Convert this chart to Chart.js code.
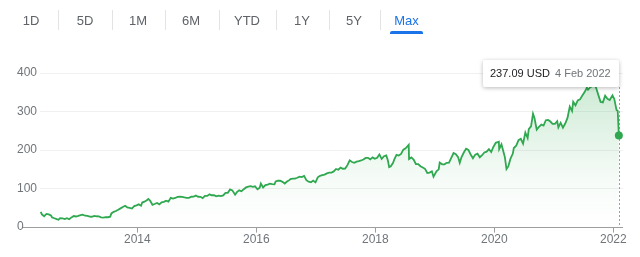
<!DOCTYPE html>
<html>
<head>
<meta charset="utf-8">
<script src="https://cdn.jsdelivr.net/npm/chart.js@4.4.1/dist/chart.umd.min.js"></script>
<style>
html,body{margin:0;padding:0;background:#fff;}
#wrap{position:relative;width:640px;height:257px;overflow:hidden;font-family:Arial,"Liberation Sans",sans-serif;}
#c{position:absolute;left:0;top:0;}
.tab{position:absolute;top:13px;font-size:13px;line-height:16px;color:#5f6368;transform:translateX(-50%);white-space:nowrap;}
.tab.on{color:#1a73e8;}
.sep{position:absolute;top:10px;width:1px;height:20px;background:#e3e3e3;}
.ul{position:absolute;top:31px;height:3px;background:#1a73e8;border-radius:2px 2px 0 0;}
</style>
</head>
<body>
<div id="wrap">
  <canvas id="c" width="640" height="257"></canvas>
</div>
<script>
// ---------- data ----------
const ranges = ["1D","5D","1M","6M","YTD","1Y","5Y","Max"];
const activeRange = "Max";
const yTicks = [0,100,200,300,400];
const yearTicks = [2014,2016,2018,2020,2022];
const lastPriceText = "237.09 USD";
const lastDateText = "4 Feb 2022";

const dates = [
"2012-05-18","2012-05-25","2012-06-08","2012-06-22","2012-07-06","2012-07-20","2012-07-27","2012-08-10","2012-08-24","2012-09-04",
"2012-09-14","2012-09-28","2012-10-12","2012-10-26","2012-11-09","2012-11-23","2012-12-07","2012-12-21","2013-01-04","2013-01-18",
"2013-01-31","2013-02-15","2013-03-01","2013-03-15","2013-03-28","2013-04-12","2013-04-26","2013-05-10","2013-05-24","2013-06-07",
"2013-06-21","2013-07-05","2013-07-19","2013-07-26","2013-08-09","2013-08-23","2013-09-06","2013-09-20","2013-10-04","2013-10-18",
"2013-10-31","2013-11-15","2013-11-29","2013-12-13","2013-12-27","2014-01-10","2014-01-24","2014-01-31","2014-02-14","2014-02-28",
"2014-03-10","2014-03-21","2014-04-04","2014-04-17","2014-05-02","2014-05-16","2014-05-30","2014-06-13","2014-06-27","2014-07-11",
"2014-07-25","2014-08-08","2014-08-22","2014-09-05","2014-09-19","2014-10-03","2014-10-17","2014-10-31","2014-11-14","2014-11-28",
"2014-12-12","2014-12-26","2015-01-09","2015-01-23","2015-02-06","2015-02-20","2015-03-06","2015-03-20","2015-04-02","2015-04-17",
"2015-04-30","2015-05-15","2015-05-29","2015-06-12","2015-06-26","2015-07-10","2015-07-24","2015-08-07","2015-08-24","2015-09-04",
"2015-09-18","2015-10-02","2015-10-16","2015-10-30","2015-11-13","2015-11-27","2015-12-11","2015-12-24","2016-01-08","2016-01-22",
"2016-01-29","2016-02-12","2016-02-26","2016-03-11","2016-03-24","2016-04-08","2016-04-22","2016-04-29","2016-05-13","2016-05-27",
"2016-06-10","2016-06-24","2016-07-08","2016-07-22","2016-07-29","2016-08-12","2016-08-26","2016-09-09","2016-09-23","2016-10-07",
"2016-10-21","2016-11-04","2016-11-18","2016-12-02","2016-12-16","2016-12-30","2017-01-13","2017-01-27","2017-02-10","2017-02-24",
"2017-03-10","2017-03-24","2017-04-07","2017-04-21","2017-05-05","2017-05-19","2017-06-02","2017-06-16","2017-06-30","2017-07-14",
"2017-07-28","2017-08-11","2017-08-25","2017-09-08","2017-09-22","2017-10-06","2017-10-20","2017-11-03","2017-11-17","2017-12-01",
"2017-12-15","2017-12-29","2018-01-12","2018-01-26","2018-02-09","2018-02-23","2018-03-09","2018-03-19","2018-03-27","2018-04-06",
"2018-04-20","2018-04-27","2018-05-11","2018-05-25","2018-06-08","2018-06-22","2018-07-06","2018-07-25","2018-07-27","2018-08-10",
"2018-08-24","2018-09-07","2018-09-21","2018-10-05","2018-10-19","2018-11-02","2018-11-16","2018-11-30","2018-12-14","2018-12-24",
"2019-01-11","2019-01-25","2019-01-31","2019-02-15","2019-03-01","2019-03-15","2019-03-29","2019-04-12","2019-04-26","2019-05-10",
"2019-05-24","2019-06-03","2019-06-14","2019-06-28","2019-07-12","2019-07-26","2019-08-09","2019-08-23","2019-09-06","2019-09-20",
"2019-10-04","2019-10-18","2019-11-01","2019-11-15","2019-11-29","2019-12-13","2019-12-27","2020-01-10","2020-01-29","2020-01-31",
"2020-02-14","2020-02-28","2020-03-06","2020-03-16","2020-03-27","2020-04-09","2020-04-24","2020-04-30","2020-05-15","2020-05-29",
"2020-06-12","2020-06-26","2020-07-10","2020-07-24","2020-07-31","2020-08-14","2020-08-26","2020-09-04","2020-09-18","2020-10-02",
"2020-10-16","2020-10-30","2020-11-13","2020-11-27","2020-12-11","2020-12-24","2021-01-08","2021-01-22","2021-01-29","2021-02-12",
"2021-02-26","2021-03-12","2021-03-26","2021-04-09","2021-04-23","2021-04-30","2021-05-14","2021-05-28","2021-06-11","2021-06-25",
"2021-07-09","2021-07-23","2021-07-30","2021-08-13","2021-08-27","2021-09-07","2021-09-17","2021-10-01","2021-10-15","2021-10-29",
"2021-11-12","2021-11-26","2021-12-10","2021-12-27","2022-01-07","2022-01-21","2022-01-28","2022-02-04"
];

const closes = [
38.2,31.9,27.1,33.0,31.7,28.8,23.7,21.8,19.4,17.7,
22.0,21.7,19.5,21.9,19.2,24.0,27.5,26.3,28.0,30.0,
31.0,28.3,27.8,26.0,25.6,28.0,26.9,26.7,24.3,23.3,
24.5,24.4,25.9,34.4,38.5,40.6,43.9,47.5,51.0,54.2,
50.2,49.0,47.0,53.3,55.4,57.9,54.4,62.6,64.9,68.5,
72.0,67.2,56.8,58.9,61.5,58.0,63.3,64.5,67.6,64.9,
74.9,73.1,74.6,77.3,77.9,77.4,75.9,75.0,74.9,77.7,
77.8,80.8,77.7,77.6,74.3,79.9,80.0,84.0,81.6,82.0,
78.8,80.4,79.2,81.2,87.9,87.9,96.9,94.3,83.0,89.7,
94.3,92.1,97.5,102.0,103.9,105.5,103.6,105.0,97.3,101.5,
112.2,102.0,107.9,109.4,112.0,110.6,110.1,117.6,119.8,119.4,
116.6,112.1,117.2,121.0,123.9,125.0,124.9,127.1,129.9,129.0,
132.1,120.8,117.0,115.4,119.9,115.1,128.3,132.2,134.2,135.4,
138.7,140.3,140.8,143.7,150.2,148.1,153.6,150.6,151.0,160.0,
172.5,168.1,166.3,169.2,170.5,172.2,174.6,178.9,179.0,175.1,
180.2,176.5,179.4,188.0,176.1,183.3,185.2,172.6,155.0,157.2,
166.3,174.2,187.0,184.9,189.1,200.5,203.7,213.0,176.0,180.2,
174.7,163.0,162.9,157.3,154.1,150.4,139.5,140.6,144.1,130.0,
144.2,149.0,166.7,162.3,162.3,166.0,166.7,179.1,191.5,188.3,
181.1,166.0,181.3,193.0,203.0,199.8,187.9,177.8,187.5,189.9,
180.5,185.9,193.0,195.1,201.6,194.1,208.1,218.3,221.0,201.9,
214.2,192.5,181.1,150.0,156.8,176.3,190.1,204.7,210.9,225.1,
228.6,216.1,245.1,230.7,253.7,261.2,294.0,282.7,252.5,259.9,
265.9,263.1,277.0,277.8,273.6,267.4,267.6,274.5,258.3,270.5,
257.6,268.4,283.0,312.5,301.1,325.1,315.9,328.7,331.3,341.4,
350.4,362.0,356.3,363.2,366.0,370.0,362.0,343.0,324.8,323.6,
340.9,333.1,329.8,342.0,332.5,303.2,301.7,237.09
];

// ---------- helpers ----------
function toYear(s){
  const p = s.split('-').map(Number);
  const t = Date.UTC(p[0], p[1]-1, p[2]);
  const a = Date.UTC(p[0], 0, 1), b = Date.UTC(p[0]+1, 0, 1);
  return p[0] + (t - a) / (b - a);
}
const points = dates.map((d, i) => ({ x: toYear(d), y: closes[i] }));
const lastIdx = closes.length - 1;
const GREEN = '#2fa84f';

// ---------- tabs (HTML) ----------
const wrap = document.getElementById('wrap');
const tabCenters = [31, 85, 138, 191, 247, 302, 354, 406.5];
const sepX = [58, 112, 165, 219, 276, 329, 380];
ranges.forEach((r, i) => {
  const d = document.createElement('div');
  d.className = 'tab' + (r === activeRange ? ' on' : '');
  d.textContent = r;
  d.style.left = tabCenters[i] + 'px';
  wrap.appendChild(d);
  if (r === activeRange) {
    const u = document.createElement('div');
    u.className = 'ul';
    u.style.left = (tabCenters[i] - 16.5) + 'px';
    u.style.width = '33px';
    wrap.appendChild(u);
  }
});
sepX.forEach(x => {
  const s = document.createElement('div');
  s.className = 'sep';
  s.style.left = x + 'px';
  wrap.appendChild(s);
});

// ---------- plugin: grid, axis line, crosshair, tooltip box ----------
const decor = {
  id: 'decor',
  beforeDatasetsDraw(chart) {
    const { ctx, chartArea, scales: { x, y } } = chart;
    ctx.save();
    ctx.lineWidth = 1;
    ctx.strokeStyle = '#f0f0f0';
    yTicks.forEach(v => {
      if (v === 0) return;
      const py = Math.round(y.getPixelForValue(v)) + 0.5;
      ctx.beginPath();
      ctx.moveTo(40, py);
      ctx.lineTo(chartArea.right, py);
      ctx.stroke();
    });
    // axis baseline
    const by = Math.round(y.getPixelForValue(0)) + 0.5;
    ctx.strokeStyle = '#9e9e9e';
    ctx.beginPath();
    ctx.moveTo(23, by);
    ctx.lineTo(chartArea.right, by);
    ctx.stroke();
    // dotted vertical at last point
    const px = Math.round(x.getPixelForValue(points[lastIdx].x)) + 0.5;
    ctx.setLineDash([2, 2]);
    ctx.strokeStyle = '#9e9e9e';
    ctx.beginPath();
    ctx.moveTo(px, 87);
    ctx.lineTo(px, by);
    ctx.stroke();
    ctx.restore();
  },
  afterDraw(chart) {
    const { ctx, scales: { x } } = chart;
    const px = x.getPixelForValue(points[lastIdx].x);
    const right = Math.round(px);
    const left = right - 136;
    const top = 60, h = 27;
    ctx.save();
    ctx.shadowColor = 'rgba(0,0,0,0.28)';
    ctx.shadowBlur = 4;
    ctx.shadowOffsetY = 1;
    ctx.fillStyle = '#fff';
    ctx.beginPath();
    ctx.roundRect(left, top, right - left, h, 2);
    ctx.fill();
    ctx.shadowColor = 'transparent';
    ctx.font = '11px Arial, "Liberation Sans", sans-serif';
    ctx.textBaseline = 'alphabetic';
    ctx.fillStyle = '#202124';
    ctx.fillText(lastPriceText, left + 7, 76.5);
    ctx.fillStyle = '#70757a';
    ctx.fillText(lastDateText, left + 72, 76.5);
    ctx.restore();
  }
};

new Chart(document.getElementById('c'), {
  type: 'line',
  data: {
    datasets: [{
      data: points,
      borderColor: GREEN,
      borderWidth: 1.8,
      tension: 0,
      fill: 'origin',
      backgroundColor(context) {
        const { chart } = context;
        const { ctx, chartArea } = chart;
        if (!chartArea) return 'rgba(47,168,79,0.1)';
        const g = ctx.createLinearGradient(0, chartArea.top, 0, chartArea.bottom);
        g.addColorStop(0, 'rgba(47,168,79,0.26)');
        g.addColorStop(0.7, 'rgba(47,168,79,0.04)');
        g.addColorStop(1, 'rgba(47,168,79,0)');
        return g;
      },
      pointRadius: c => (c.dataIndex === lastIdx ? 4 : 0),
      pointHoverRadius: 0,
      pointBackgroundColor: GREEN,
      pointBorderWidth: 0
    }]
  },
  options: {
    responsive: false,
    animation: false,
    events: [],
    layout: { padding: { left: 17, right: 17, top: 73, bottom: 10 } },
    plugins: { legend: { display: false }, tooltip: { enabled: false } },
    scales: {
      x: {
        type: 'linear',
        min: 2011.978,
        max: 2022.163,
        afterBuildTicks: s => { s.ticks = yearTicks.map(v => ({ value: v })); },
        grid: { drawOnChartArea: false, drawTicks: true, tickLength: 6, color: '#9e9e9e' },
        border: { display: false },
        ticks: {
          padding: 0, color: '#70757a', maxRotation: 0, autoSkip: false,
          font: { size: 12, family: 'Arial, "Liberation Sans", sans-serif' },
          callback: v => String(v)
        }
      },
      y: {
        min: 0,
        max: 400,
        afterBuildTicks: s => { s.ticks = yTicks.map(v => ({ value: v })); },
        grid: { display: false, drawTicks: false },
        border: { display: false },
        ticks: {
          mirror: true, padding: 0, color: '#70757a',
          font: { size: 12, family: 'Arial, "Liberation Sans", sans-serif' },
          callback: v => String(v)
        }
      }
    }
  },
  plugins: [decor]
});
</script>
</body>
</html>
